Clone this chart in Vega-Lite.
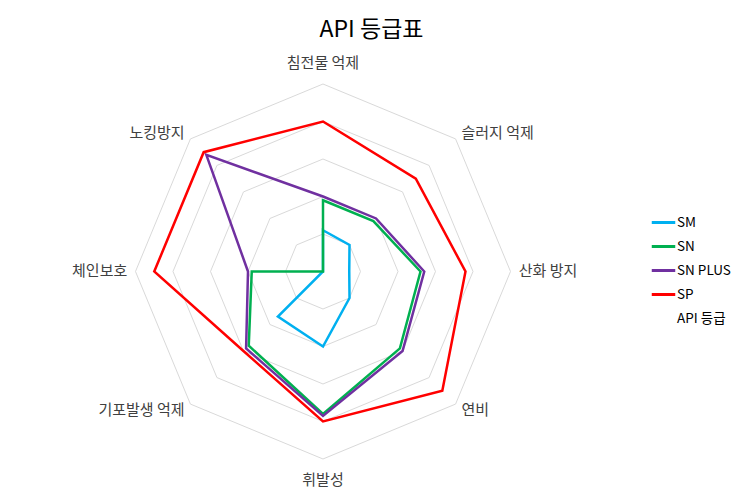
{
  "$schema": "https://vega.github.io/schema/vega-lite/v6.json",
  "width": 743,
  "height": 496,
  "autosize": {"type": "none"},
  "padding": 0,
  "title": {
    "text": "API 등급표",
    "font": "Noto Sans CJK KR",
    "fontSize": 23,
    "fontWeight": "normal",
    "color": "#000000",
    "anchor": "middle",
    "baseline": "middle",
    "offset": 0,
    "dy": 53
  },
  "datasets": {
    "oil": [
      {"i": 0, "axis": "침전물 억제", "SM": 1.1, "SN": 1.9, "SN PLUS": 2.0, "SP": 4.0},
      {"i": 1, "axis": "슬러지 억제", "SM": 1.0, "SN": 1.9, "SN PLUS": 2.0, "SP": 3.5},
      {"i": 2, "axis": "산화 방지", "SM": 0.7, "SN": 2.6, "SN PLUS": 2.7, "SP": 3.8},
      {"i": 3, "axis": "연비", "SM": 1.0, "SN": 2.9, "SN PLUS": 3.0, "SP": 4.5},
      {"i": 4, "axis": "휘발성", "SM": 2.0, "SN": 3.8, "SN PLUS": 3.85, "SP": 4.0},
      {"i": 5, "axis": "기포발생 억제", "SM": 1.7, "SN": 2.8, "SN PLUS": 2.9, "SP": 3.0},
      {"i": 6, "axis": "체인보호", "SM": 0, "SN": 1.9, "SN PLUS": 2.0, "SP": 4.5},
      {"i": 7, "axis": "노킹방지", "SM": 0, "SN": 0, "SN PLUS": 4.4, "SP": 4.5}
    ],
    "rings": [
      {"ring": 1, "i": [0, 1, 2, 3, 4, 5, 6, 7]},
      {"ring": 2, "i": [0, 1, 2, 3, 4, 5, 6, 7]},
      {"ring": 3, "i": [0, 1, 2, 3, 4, 5, 6, 7]},
      {"ring": 4, "i": [0, 1, 2, 3, 4, 5, 6, 7]},
      {"ring": 5, "i": [0, 1, 2, 3, 4, 5, 6, 7]}
    ]
  },
  "encoding": {
    "x": {"field": "x", "type": "quantitative", "axis": null,
          "scale": {"domain": [-8.6133, 11.2], "nice": false, "zero": false}},
    "y": {"field": "y", "type": "quantitative", "axis": null,
          "scale": {"domain": [-5.9867, 7.24], "nice": false, "zero": false}}
  },
  "layer": [
    {
      "data": {"name": "rings"},
      "transform": [
        {"flatten": ["i"]},
        {"calculate": "datum.ring * sin(datum.i * PI / 4)", "as": "x"},
        {"calculate": "datum.ring * cos(datum.i * PI / 4)", "as": "y"}
      ],
      "mark": {"type": "line", "interpolate": "linear-closed", "color": "#D9D9D9", "strokeWidth": 1},
      "encoding": {
        "detail": {"field": "ring", "type": "nominal"},
        "order": {"field": "i", "type": "quantitative"}
      }
    },
    {
      "data": {"name": "oil"},
      "transform": [
        {"fold": ["SM", "SN", "SN PLUS", "SP"], "as": ["grade", "v"]},
        {"calculate": "datum.v * sin(datum.i * PI / 4)", "as": "x"},
        {"calculate": "datum.v * cos(datum.i * PI / 4)", "as": "y"}
      ],
      "mark": {"type": "line", "interpolate": "linear-closed", "strokeWidth": 2.5},
      "encoding": {
        "order": {"field": "i", "type": "quantitative"},
        "color": {
          "field": "grade",
          "type": "nominal",
          "scale": {
            "domain": ["SM", "SN", "SN PLUS", "SP", "API 등급"],
            "range": ["#00B0F0", "#00B050", "#7030A0", "#FF0000", "transparent"]
          },
          "legend": {
            "orient": "none",
            "legendX": 650,
            "legendY": 209,
            "title": null,
            "padding": 0,
            "symbolType": "stroke",
            "symbolSize": 552,
            "symbolStrokeWidth": 3,
            "labelFont": "Noto Sans CJK KR",
            "labelFontSize": 13.5,
            "labelColor": "#000000",
            "labelOffset": 0,
            "rowPadding": 4
          }
        }
      }
    },
    {
      "data": {"name": "oil"},
      "transform": [
        {"filter": "datum.i == 0 || datum.i == 4"},
        {"calculate": "5.55 * sin(datum.i * PI / 4)", "as": "x"},
        {"calculate": "5.55 * cos(datum.i * PI / 4)", "as": "y"}
      ],
      "mark": {"type": "text", "align": "center", "baseline": "middle",
               "font": "Noto Sans CJK KR", "fontSize": 15, "color": "#404040"},
      "encoding": {"text": {"field": "axis"}}
    },
    {
      "data": {"name": "oil"},
      "transform": [
        {"filter": "datum.i >= 1 && datum.i <= 3"},
        {"calculate": "5.22 * sin(datum.i * PI / 4)", "as": "x"},
        {"calculate": "5.22 * cos(datum.i * PI / 4)", "as": "y"}
      ],
      "mark": {"type": "text", "align": "left", "baseline": "middle",
               "font": "Noto Sans CJK KR", "fontSize": 15, "color": "#404040"},
      "encoding": {"text": {"field": "axis"}}
    },
    {
      "data": {"name": "oil"},
      "transform": [
        {"filter": "datum.i >= 5"},
        {"calculate": "5.22 * sin(datum.i * PI / 4)", "as": "x"},
        {"calculate": "5.22 * cos(datum.i * PI / 4)", "as": "y"}
      ],
      "mark": {"type": "text", "align": "right", "baseline": "middle",
               "font": "Noto Sans CJK KR", "fontSize": 15, "color": "#404040"},
      "encoding": {"text": {"field": "axis"}}
    }
  ],
  "config": {"view": {"stroke": null}}
}
